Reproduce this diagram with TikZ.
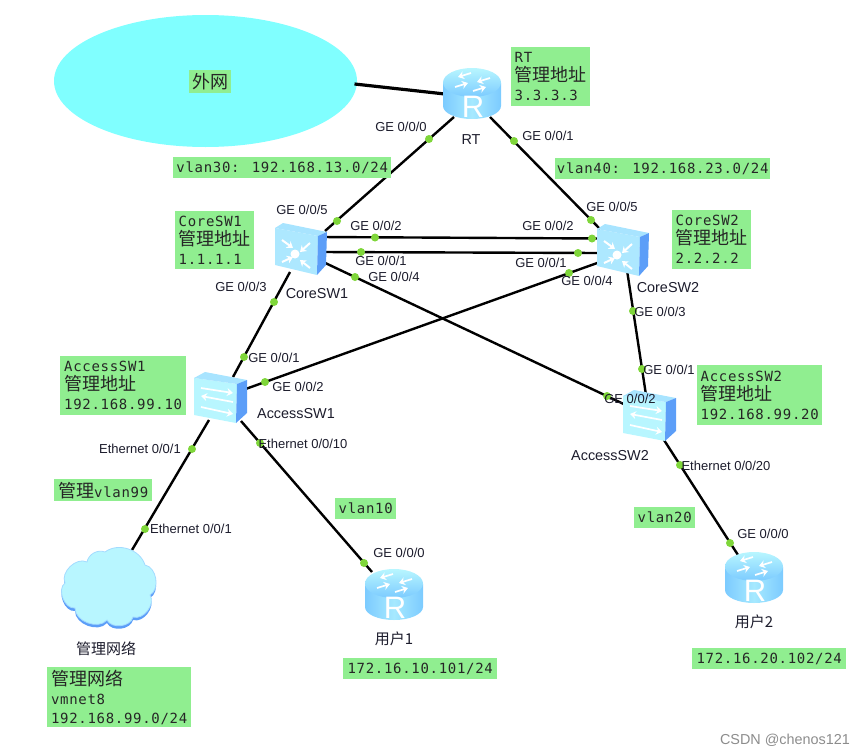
\documentclass[tikz,border=0pt]{standalone}
\usepackage{fontspec}
\setmainfont{Liberation Sans}
\newfontfamily\cjk{Noto Sans CJK SC}
\newfontfamily\mono[LetterSpace=5]{DejaVu Sans Mono}
\usetikzlibrary{arrows.meta,shapes.geometric}
\definecolor{boxgreen}{HTML}{90EE90}
\definecolor{dotgreen}{HTML}{7FD63A}
\definecolor{sideblue}{HTML}{5C9EF8}
\definecolor{lightcy}{HTML}{B8F6FF}
\definecolor{corecy}{HTML}{ADE8FF}
\definecolor{topcy}{HTML}{A8E4FF}
\definecolor{midblue}{HTML}{7CCBFF}
\definecolor{inkdark}{HTML}{1C1C2C}
\definecolor{inetcy}{HTML}{80FFFF}
\newcommand{\mt}[1]{{\mono\fontsize{14}{19}\selectfont #1}}
\newcommand{\ct}[1]{{\cjk\fontsize{18}{19}\selectfont #1}}
\tikzset{
  gbox/.style={fill=boxgreen,draw=none,anchor=north west,inner sep=0pt,align=left,text=black!85,
    font=\fontsize{14}{19}\selectfont},
  portdot/.style={circle,fill=dotgreen,draw=none,inner sep=0pt,minimum size=8pt},
  port/.style={font=\fontsize{13}{14}\selectfont,text=inkdark,inner sep=0pt},
  devname/.style={font=\fontsize{14.4}{15}\selectfont,text=inkdark,inner sep=0pt},
  cjkname/.style={font=\cjk\fontsize{15}{16}\selectfont,text=inkdark,inner sep=0pt},
  link/.style={line width=2.4pt,draw=black},
  ghost/.style={draw=none,fill=none,inner sep=0pt,minimum size=10pt},
  whitearrow/.style={draw=white,line width=2pt,-{Stealth[length=6pt,width=8pt]}},
  pics/routericon/.style={code={
    \path[left color=midblue,right color=midblue,middle color=lightcy!70!midblue]
      (-29,-11) -- (-29,12) arc[start angle=180,end angle=360,x radius=29pt,y radius=13pt] -- (29,-11) -- cycle;
    \path[top color=lightcy,bottom color=midblue] (0,-11.5) ellipse[x radius=29pt,y radius=14.5pt];
    \draw[whitearrow,line width=1.7pt] (-17,-7) -- (-4,-11);
    \draw[whitearrow,line width=1.7pt] (18,-16) -- (5,-12);
    \draw[whitearrow,line width=1.7pt] (-1,-21) -- (-14,-17);
    \draw[whitearrow,line width=1.7pt] (1,-3) -- (14,-7);
    \node[text=white,font=\fontsize{31}{31}\selectfont,inner sep=0pt] at (1,13) {R};
  }},
  pics/coreicon/.style={code={
    \path[fill=corecy] (-25,-22) -- (18,-14) -- (17,25) -- (-25,15) -- cycle;
    \path[fill=topcy] (-25,-22) -- (-17,-27) -- (27,-18) -- (18,-14) -- cycle;
    \path[fill=sideblue] (18,-14) -- (27,-18) -- (26,15) -- (17,25) -- cycle;
    \draw[whitearrow] (-18,-10) -- (-7,-2);
    \draw[whitearrow] (10,-7) -- (0,2);
    \draw[whitearrow] (-18,12) -- (-7,7);
    \draw[whitearrow] (10,18) -- (0,10);
    \fill[white] (-5,4) circle[radius=4.5pt];
  }},
  pics/accessicon/.style={code={
    \path[fill=lightcy] (-26,-20) -- (17,-14) -- (16,25) -- (-26,17) -- cycle;
    \path[fill=topcy] (-26,-20) -- (-15,-26) -- (27,-18) -- (17,-14) -- cycle;
    \path[fill=sideblue] (17,-14) -- (27,-18) -- (27,15) -- (16,25) -- cycle;
    \draw[whitearrow,line width=1.7pt] (-19,-10) -- (13,-5);
    \draw[whitearrow,line width=1.7pt] (13,4) -- (-19,-2);
    \draw[whitearrow,line width=1.7pt] (-19,9) -- (13,16);
  }},
}
\begin{document}
\begin{tikzpicture}[x=1pt,y=-1pt]
\useasboundingbox (0,0) rectangle (865,755);
% device anchors
\node[ellipse,fill=inetcy,draw=none,minimum width=303pt,minimum height=132pt,inner sep=0pt] (inet) at (205.5,81) {};
\node[ghost] (rt) at (472,94) {};
\node[ghost] (core1) at (300,250) {};
\node[ghost] (core2) at (622,251) {};
\node[ghost] (acc1) at (220,398) {};
\node[ghost] (acc2) at (649,416) {};
\node[ghost] (usr1) at (394,595) {};
\node[ghost] (usr2) at (754,578) {};
\node[ghost] (mgmt) at (107,590) {};
% connectors
\draw[link,line width=3.2pt] ([shift={(149,3)}]inet.center) -- ([shift={(-27,0)}]rt.center);
\draw[link] ([shift={(-18,23)}]rt.center) -- ([shift={(25,-19)}]core1.center);
\draw[link] ([shift={(18,23)}]rt.center) -- ([shift={(-22,-22)}]core2.center);
\draw[link] ([shift={(20,-13)}]core1.center) -- ([shift={(-22,-12.5)}]core2.center);
\draw[link] ([shift={(20,2)}]core1.center) -- ([shift={(-22,2)}]core2.center);
\draw[link] ([shift={(20,10.5)}]core1.center) -- ([shift={(-19,-9)}]acc2.center);
\draw[link] ([shift={(-22,11)}]core2.center) -- ([shift={(20,-7)}]acc1.center);
\draw[link] ([shift={(-10,22)}]core1.center) -- ([shift={(13,-21)}]acc1.center);
\draw[link] ([shift={(5,19)}]core2.center) -- ([shift={(-3,-21)}]acc2.center);
\draw[link] ([shift={(-11,22)}]acc1.center) -- ([shift={(25,-40)}]mgmt.center);
\draw[link] ([shift={(21,23)}]acc1.center) -- ([shift={(-22,-23)}]usr1.center);
\draw[link] ([shift={(15,24)}]acc2.center) -- ([shift={(-16,-23)}]usr2.center);
% icons
\pic at (rt) {routericon};
\pic at (usr1) {routericon};
\pic at (usr2) {routericon};
\pic at (core1) {coreicon};
\pic at (core2) {coreicon};
\pic at (acc1) {accessicon};
\pic at (acc2) {accessicon};
% cloud
\path[fill=sideblue] (65,586) to[bend right=75] (75,611) to[bend right=70] (107,623) to[bend right=70] (133,620) to[bend right=70] (150,598) to[bend right=70] (145,568) to[bend right=55] (105,555) to[bend right=50] (87,565) to[bend right=70] (65,586) -- cycle;
\path[fill=lightcy,draw=midblue!70,line width=0.8pt] (65,583) to[bend right=75] (75,608) to[bend right=70] (107,620) to[bend right=70] (133,617) to[bend right=70] (150,595) to[bend right=70] (145,565) to[bend right=55] (105,552) to[bend right=50] (87,562) to[bend right=70] (65,583) -- cycle;
% port dots
\foreach \p [count=\i] in {(429,139),(337,221),(514,141),(591,220),(375,237.5),(592,238.5),(361,252),(578,253),(355,277),(607,396),(569,273),(265,382),(274,302),(244,357),(633,311),(642,369),(192,449),(145,529),(260,443),(364,563),(680,465),(730,543)}
  \node[portdot] (dot\i) at \p {};
% port labels
\node[port] (l1) at (401,127) {GE 0/0/0};
\node[port] (l2) at (548,136) {GE 0/0/1};
\node[port] (l3) at (302,210) {GE 0/0/5};
\node[port] (l4) at (376,226) {GE 0/0/2};
\node[port] (l5) at (381,261) {GE 0/0/1};
\node[port] (l6) at (394,277) {GE 0/0/4};
\node[port] (l7) at (241,287) {GE 0/0/3};
\node[port] (l8) at (548,226) {GE 0/0/2};
\node[port] (l9) at (541,263) {GE 0/0/1};
\node[port] (l10) at (612,207) {GE 0/0/5};
\node[port] (l11) at (587,281) {GE 0/0/4};
\node[port] (l12) at (660,312) {GE 0/0/3};
\node[port] (l13) at (669,370) {GE 0/0/1};
\node[port] (l14) at (630,399) {GE 0/0/2};
\node[port] (l15) at (726,466) {Ethernet 0/0/20};
\node[port] (l16) at (274,358) {GE 0/0/1};
\node[port] (l17) at (298,387) {GE 0/0/2};
\node[port] (l18) at (140,449) {Ethernet 0/0/1};
\node[port] (l19) at (303,444) {Ethernet 0/0/10};
\node[port] (l20) at (191,529) {Ethernet 0/0/1};
\node[port] (l21) at (399,553) {GE 0/0/0};
\node[port] (l22) at (763,534) {GE 0/0/0};
% device names
\node[devname] (n1) at (471,140) {RT};
\node[devname] (n2) at (317,294) {CoreSW1};
\node[devname] (n3) at (668,288) {CoreSW2};
\node[devname] (n4) at (296,414) {AccessSW1};
\node[devname] (n5) at (610,456) {AccessSW2};
\node[cjkname] (n6) at (394,639) {用户1};
\node[cjkname] (n7) at (754,622) {用户2};
\node[cjkname] (n8) at (106,649) {管理网络};
% green boxes
\node[gbox,minimum width=42pt,minimum height=23pt,align=center] (b1) at (189,70) {\ct{外网}};
\node[gbox,minimum width=79pt,minimum height=59pt] (b2) at (511,47) {\mt{RT}\\\ct{管理地址}\\\mt{3.3.3.3}};
\node[gbox,minimum width=218pt,minimum height=21pt,align=center] (b3) at (173,157) {\mt{vlan30: 192.168.13.0/24}};
\node[gbox,minimum width=215pt,minimum height=21pt,align=center] (b4) at (555,158) {\mt{vlan40: 192.168.23.0/24}};
\node[gbox,minimum width=79pt,minimum height=58pt] (b5) at (175,211) {\mt{CoreSW1}\\\ct{管理地址}\\\mt{1.1.1.1}};
\node[gbox,minimum width=79pt,minimum height=59pt] (b6) at (672,210) {\mt{CoreSW2}\\\ct{管理地址}\\\mt{2.2.2.2}};
\node[gbox,minimum width=126pt,minimum height=59pt] (b7) at (60,356) {\mt{AccessSW1}\\\ct{管理地址}\\\mt{192.168.99.10}};
\node[gbox,minimum width=125pt,minimum height=60pt] (b8) at (697,365) {\mt{AccessSW2}\\\ct{管理地址}\\\mt{192.168.99.20}};
\node[gbox,minimum width=98pt,minimum height=22pt,align=center] (b9) at (54,479) {\ct{管理}\mt{vlan99}};
\node[gbox,minimum width=61pt,minimum height=21pt,align=center] (b10) at (335,498) {\mt{vlan10}};
\node[gbox,minimum width=61pt,minimum height=21pt,align=center] (b11) at (634,507) {\mt{vlan20}};
\node[gbox,minimum width=154pt,minimum height=21pt,align=center] (b12) at (343,658) {\mt{172.16.10.101/24}};
\node[gbox,minimum width=154pt,minimum height=21pt,align=center] (b13) at (692,648) {\mt{172.16.20.102/24}};
\node[gbox,minimum width=144pt,minimum height=60pt] (b14) at (47,667) {\ct{管理网络}\\\mt{vmnet8}\\\mt{192.168.99.0/24}};
% watermark
\node[font=\fontsize{14.4}{16}\selectfont,text=black!45,inner sep=0pt] (wm) at (785,740) {CSDN @chenos121};
\end{tikzpicture}
\end{document}
